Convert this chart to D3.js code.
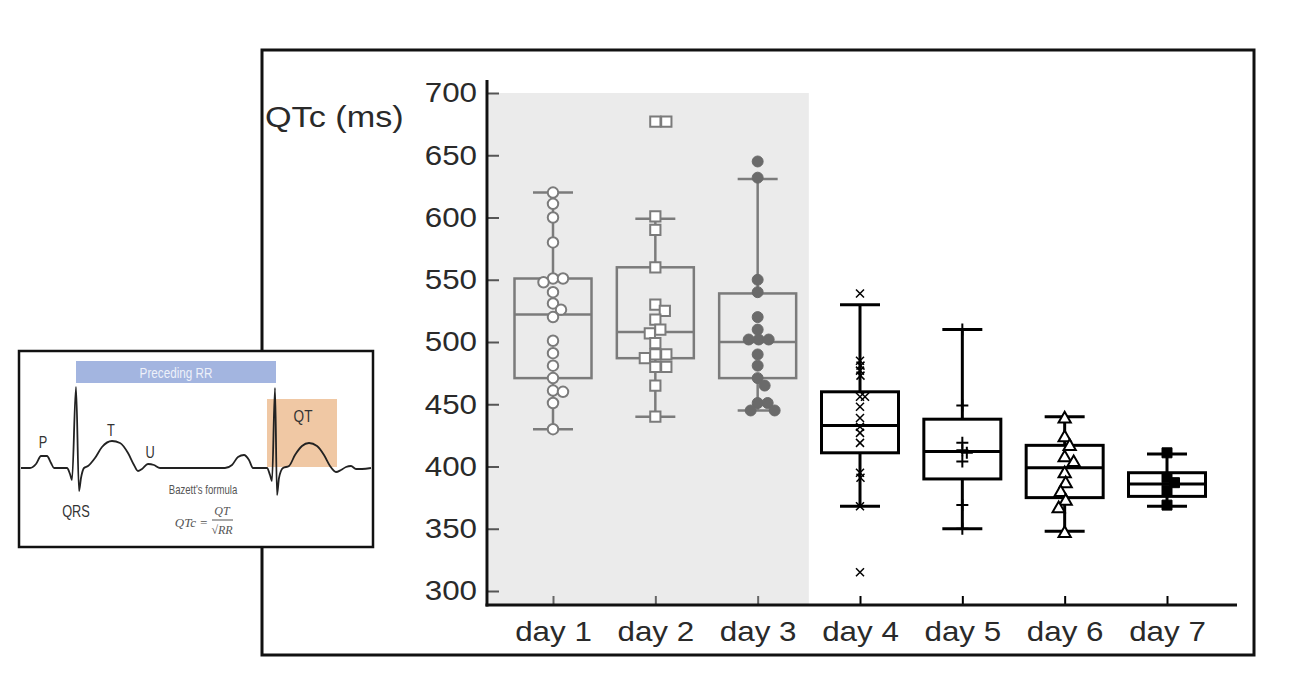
<!DOCTYPE html>
<html>
<head>
<meta charset="utf-8">
<script src="https://cdnjs.cloudflare.com/ajax/libs/d3/7.8.5/d3.min.js"></script>
<style>
  body { margin: 0; background: #fff; }
  svg { display: block; }
</style>
</head>
<body>
<div id="chart"></div>
<script>
// categories and tick labels
const days = ['day 1', 'day 2', 'day 3', 'day 4', 'day 5', 'day 6', 'day 7'];
const yTicks = [300, 350, 400, 450, 500, 550, 600, 650, 700];

// box plot summary per day (ms)
const whiskerLow  = [430, 440, 445, 368, 350, 348, 368];
const q1          = [471, 487, 471, 411, 390, 375, 376];
const median      = [522, 508, 500, 433, 412, 399, 386];
const q3          = [551, 560, 539, 460, 438, 417, 395];
const whiskerHigh = [620, 599, 631, 530, 510, 440, 410];

// individual QTc values per day (ms)
const day1 = [620, 611, 600, 580, 551, 551, 548, 540, 531, 526, 520, 501, 491, 481, 471, 461, 460, 451, 430];
const day2 = [677, 677, 601, 590, 560, 530, 525, 518, 510, 507, 499, 490, 490, 487, 480, 480, 465, 440];
const day3 = [645, 632, 550, 540, 520, 510, 502, 502, 502, 490, 481, 471, 465, 451, 451, 445, 445];
const day4 = [539, 485, 481, 477, 473, 456, 456, 448, 439, 432, 427, 419, 395, 391, 368, 315];
const day5 = [510, 449, 419, 413, 411, 404, 369, 350];
const day6 = [439, 424, 417, 408, 404, 395, 387, 380, 373, 367, 347];
const day7 = [411, 391, 387, 381, 369];
const dayPoints = [day1, day2, day3, day4, day5, day6, day7];

const width = 1300;
const height = 688;
const plotLeft = 487;
const plotRight = 1237;
const plotBottom = 605;
const boxWidth = 77;
const capWidth = 40;
const GRAY = '#7b7b7b';

// small custom symbol shapes (size = bounding width squared)
const symX = { draw(ctx, size) { const r = Math.sqrt(size) / 2; ctx.moveTo(-r, -r); ctx.lineTo(r, r); ctx.moveTo(-r, r); ctx.lineTo(r, -r); } };
const symPlus = { draw(ctx, size) { const r = Math.sqrt(size) / 2; ctx.moveTo(-r, 0); ctx.lineTo(r, 0); ctx.moveTo(0, -r); ctx.lineTo(0, r); } };
const symTri = { draw(ctx, size) { const r = Math.sqrt(size) / 2; ctx.moveTo(0, -r); ctx.lineTo(r, r * 0.75); ctx.lineTo(-r, r * 0.75); ctx.closePath(); } };
const symSquare = { draw(ctx, size) { const r = Math.sqrt(size) / 2; ctx.rect(-r, -r, 2 * r, 2 * r); } };
const symCircle = { draw(ctx, size) { const r = Math.sqrt(size) / 2; ctx.moveTo(r, 0); ctx.arc(0, 0, r, 0, 2 * Math.PI); } };

const markerStyle = [
    { type: symCircle, size: 110, fill: '#fff', stroke: GRAY, sw: 2, gap: 10 },
    { type: symSquare, size: 105, fill: '#fff', stroke: GRAY, sw: 2, gap: 11 },
    { type: symCircle, size: 120, fill: '#6a6a6a', stroke: '#6a6a6a', sw: 1, gap: 10 },
    { type: symX, size: 64, fill: 'none', stroke: '#000', sw: 1.5, gap: 5 },
    { type: symPlus, size: 144, fill: 'none', stroke: '#000', sw: 2, gap: 5 },
    { type: symTri, size: 150, fill: '#fff', stroke: '#000', sw: 2, gap: 10 },
    { type: symSquare, size: 100, fill: '#000', stroke: '#000', sw: 1, gap: 9 }
];
const boxStroke = [GRAY, GRAY, GRAY, '#000', '#000', '#000', '#000'];
const boxStrokeWidth = [2.5, 2.5, 2.5, 3, 3, 3, 3];

const svg = d3.select('#chart')
    .append('svg')
    .attr('width', width)
    .attr('height', height)
    .style('font-family', '"Liberation Sans", Arial, sans-serif');

const x = d3.scalePoint().domain(days).range([553, 1167]);
const y = d3.scaleLinear().domain([300, 700]).range([591, 93]);

// outer frame
svg.append('rect')
    .attr('x', 262).attr('y', 50)
    .attr('width', 992).attr('height', 605)
    .attr('fill', 'none')
    .attr('stroke', '#111')
    .attr('stroke-width', 3);

// shaded area behind days 1-3
svg.append('rect')
    .attr('x', plotLeft + 2)
    .attr('y', y(700))
    .attr('width', (x('day 3') + x('day 4')) / 2 - plotLeft - 2)
    .attr('height', plotBottom - y(700))
    .attr('fill', '#ebebeb');

// boxes
const boxes = svg.append('g').selectAll('g')
    .data(days)
    .join('g')
    .attr('stroke', (d, i) => boxStroke[i])
    .attr('stroke-width', (d, i) => boxStrokeWidth[i])
    .attr('fill', 'none');

boxes.append('line')
    .attr('x1', d => x(d)).attr('x2', d => x(d))
    .attr('y1', (d, i) => y(whiskerLow[i])).attr('y2', (d, i) => y(q1[i]));
boxes.append('line')
    .attr('x1', d => x(d)).attr('x2', d => x(d))
    .attr('y1', (d, i) => y(q3[i])).attr('y2', (d, i) => y(whiskerHigh[i]));
boxes.append('line')
    .attr('x1', d => x(d) - capWidth / 2).attr('x2', d => x(d) + capWidth / 2)
    .attr('y1', (d, i) => y(whiskerLow[i])).attr('y2', (d, i) => y(whiskerLow[i]));
boxes.append('line')
    .attr('x1', d => x(d) - capWidth / 2).attr('x2', d => x(d) + capWidth / 2)
    .attr('y1', (d, i) => y(whiskerHigh[i])).attr('y2', (d, i) => y(whiskerHigh[i]));
boxes.append('rect')
    .attr('x', d => x(d) - boxWidth / 2)
    .attr('width', boxWidth)
    .attr('y', (d, i) => y(q3[i]))
    .attr('height', (d, i) => y(q1[i]) - y(q3[i]));
boxes.append('line')
    .attr('x1', d => x(d) - boxWidth / 2).attr('x2', d => x(d) + boxWidth / 2)
    .attr('y1', (d, i) => y(median[i])).attr('y2', (d, i) => y(median[i]));

// simple dodge so overlapping points sit side by side
function dodge(values, gap) {
    const placed = [];
    return values.map(v => {
        const cy = y(v);
        let dx = 0;
        for (let k = 0; k < 400; k++) {
            const cand = k === 0 ? 0 : (k % 2 ? 1 : -1) * Math.ceil(k / 2) * 0.5;
            if (placed.every(p => (p.dx - cand) ** 2 + (p.cy - cy) ** 2 >= gap * gap)) { dx = cand; break; }
        }
        placed.push({ dx, cy });
        return { v, dx, cy };
    });
}

days.forEach((day, i) => {
    const st = markerStyle[i];
    const sym = d3.symbol().type(st.type).size(st.size);
    svg.append('g')
        .selectAll('path')
        .data(dodge(dayPoints[i], st.gap))
        .join('path')
        .attr('d', sym)
        .attr('transform', d => `translate(${x(day) + d.dx},${d.cy})`)
        .attr('fill', st.fill)
        .attr('stroke', st.stroke)
        .attr('stroke-width', st.sw);
});

// axes
const yAxis = svg.append('g')
    .attr('transform', `translate(${plotLeft},0)`)
    .call(d3.axisLeft(y).tickValues(yTicks).tickSizeInner(-12).tickSizeOuter(0).tickPadding(10));
yAxis.select('.domain').remove();
yAxis.selectAll('.tick line').attr('stroke', '#555').attr('stroke-width', 2);
yAxis.selectAll('.tick text')
    .attr('fill', '#2a2a2a')
    .style('font-size', '28px')
    .attr('transform', 'translate(-10,0) scale(1.12,1) translate(10,0)');

const xAxis = svg.append('g')
    .attr('transform', `translate(0,${plotBottom})`)
    .call(d3.axisBottom(x).tickSizeInner(-9).tickSizeOuter(0).tickPadding(16));
xAxis.select('.domain').remove();
xAxis.selectAll('.tick line')
    .attr('stroke', (d, i) => i < 3 ? '#666' : '#000')
    .attr('stroke-width', 2);
xAxis.selectAll('.tick text')
    .attr('fill', '#2a2a2a')
    .style('font-size', '28px')
    .attr('transform', 'scale(1.12,1)');

svg.append('line')
    .attr('x1', plotLeft).attr('x2', plotLeft)
    .attr('y1', 80).attr('y2', plotBottom + 1.5)
    .attr('stroke', '#111').attr('stroke-width', 3);
svg.append('line')
    .attr('x1', plotLeft - 1.5).attr('x2', plotRight)
    .attr('y1', plotBottom).attr('y2', plotBottom)
    .attr('stroke', '#111').attr('stroke-width', 3);

svg.append('text')
    .attr('transform', 'translate(265,127) scale(1.14,1)')
    .attr('fill', '#2a2a2a')
    .style('font-size', '30px')
    .text('QTc (ms)');

// ECG inset (illustration)
const ecgTrace = [
    [21, 468], [30, 468], [36, 464], [41, 456], [47, 456], [51, 463], [54, 468], [67, 468], [70, 474],
    [72, 480], [76, 387], [79, 491], [81, 478], [84, 468], [88, 466], [95, 458], [102, 447], [112, 441],
    [120, 443], [128, 453], [134, 465], [138, 471], [142, 469], [148, 464], [154, 465], [160, 468],
    [225, 468], [232, 465], [238, 457], [244, 455], [249, 460], [253, 468], [267, 468], [270, 475],
    [272, 481], [275, 388], [277, 495], [279, 478], [283, 468], [289, 466], [295, 455], [302, 446],
    [309, 443], [317, 446], [324, 455], [330, 466], [336, 472], [341, 470], [346, 467], [351, 466],
    [356, 469], [362, 469], [371, 468]
];

const inset = svg.append('g');

// condensed-looking label: horizontal squeeze around its anchor
function narrowText(parent, txt, tx, ty, size, fill, squeeze) {
    return parent.append('text')
        .attr('transform', `translate(${tx},${ty}) scale(${squeeze},1)`)
        .attr('text-anchor', 'middle')
        .attr('fill', fill)
        .style('font-size', size + 'px')
        .text(txt);
}

inset.append('rect')
    .attr('x', 19).attr('y', 351).attr('width', 354).attr('height', 196)
    .attr('fill', '#fff').attr('stroke', '#111').attr('stroke-width', 2.5);
inset.append('rect')
    .attr('x', 76).attr('y', 361).attr('width', 200).attr('height', 22)
    .attr('fill', '#a3b5e0');
narrowText(inset, 'Preceding RR', 176, 378, 15, '#eef1fa', 0.78);
inset.append('rect')
    .attr('x', 267).attr('y', 399).attr('width', 70).attr('height', 68)
    .attr('fill', '#f0c8a4');
narrowText(inset, 'QT', 303, 422, 17, '#333', 0.8);
inset.append('path')
    .attr('d', d3.line().curve(d3.curveMonotoneX)(ecgTrace))
    .attr('fill', 'none').attr('stroke', '#222').attr('stroke-width', 1.8);

const waveLabels = [['P', 43, 448], ['T', 111, 436], ['U', 150, 458], ['QRS', 76, 517]];
waveLabels.forEach(d => narrowText(inset, d[0], d[1], d[2], 16, '#333', 0.8));

narrowText(inset, "Bazett's formula", 203, 494, 12, '#555', 0.8);
const formula = inset.append('g')
    .style('font-family', '"Liberation Serif", "DejaVu Serif", serif')
    .style('font-style', 'italic')
    .attr('fill', '#555');
formula.append('text').attr('x', 208).attr('y', 527).attr('text-anchor', 'end').style('font-size', '13px').text('QTc =');
formula.append('text').attr('x', 222).attr('y', 515).attr('text-anchor', 'middle').style('font-size', '12px').text('QT');
formula.append('line').attr('x1', 212).attr('x2', 233).attr('y1', 520).attr('y2', 520).attr('stroke', '#555').attr('stroke-width', 1);
formula.append('text').attr('x', 222).attr('y', 534).attr('text-anchor', 'middle').style('font-size', '12px').text('\u221ARR');
</script>
</body>
</html>
